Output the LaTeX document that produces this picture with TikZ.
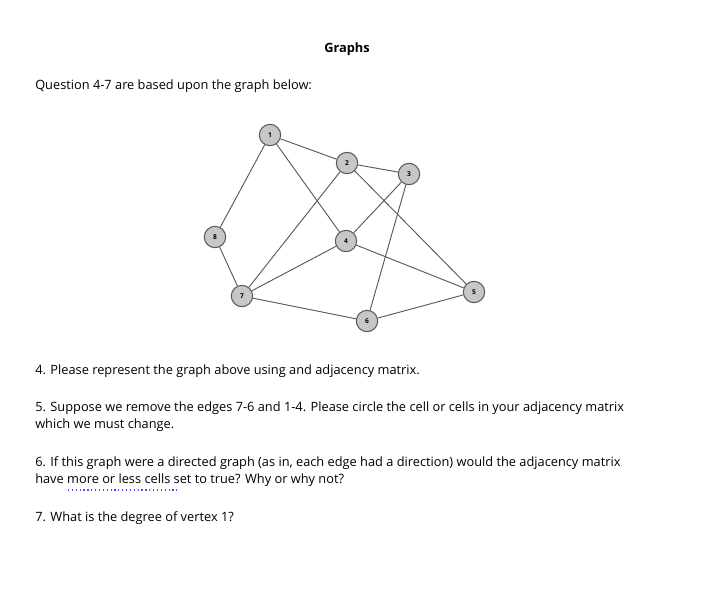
\documentclass[tikz,border=0pt]{standalone}
\usepackage{fontspec}
\setmainfont{Open Sans}
\begin{document}
\begin{tikzpicture}[x=0.75pt,y=-0.75pt,
  v/.style={circle,draw=black!65,fill=black!22,line width=0.8pt,minimum size=16pt,inner sep=0pt,font=\fontsize{5}{6}\selectfont\bfseries},
  e/.style={draw=black!65,line width=0.7pt},
  txt/.style={anchor=west,inner sep=0pt,font=\fontsize{9.6}{12}\selectfont}]
\useasboundingbox (0,0) rectangle (728,593);
\node[font=\fontsize{9.6}{12}\selectfont\bfseries,inner sep=0pt] (title) at (347,49) {Graphs};
\node[txt] (q) at (35,86) {Question 4-7 are based upon the graph below:};
\node[v] (n1) at (270,135) {1};
\node[v] (n2) at (347,163) {2};
\node[v] (n3) at (409,174) {3};
\node[v] (n8) at (215,237) {8};
\node[v] (n4) at (346,241) {4};
\node[v] (n7) at (242,296) {7};
\node[v] (n5) at (474,292) {5};
\node[v] (n6) at (367,321) {6};
\foreach \a/\b in {n1/n2,n1/n8,n1/n4,n2/n3,n2/n7,n2/n5,n3/n4,n3/n6,n8/n7,n7/n4,n7/n6,n4/n5,n6/n5}
  \draw[e] (\a) -- (\b);
\node[txt] (t4) at (35,371) {4. Please represent the graph above using and adjacency matrix.};
\node[txt] (t5a) at (35,408) {5. Suppose we remove the edges 7-6 and 1-4. Please circle the cell or cells in your adjacency matrix};
\node[txt] (t5b) at (35,425) {which we must change.};
\node[txt] (t6a) at (35,463) {6. If this graph were a directed graph (as in, each edge had a direction) would the adjacency matrix};
\node[txt] (t6b) at (35,480) {have more or less cells set to true? Why or why not?};
\node[txt] (t7) at (35,518) {7. What is the degree of vertex 1?};
\coordinate (u1) at (68,490);
\coordinate (u2) at (178,490);
\draw[blue!70,dotted,line width=0.9pt] (u1) -- (u2);
\end{tikzpicture}
\end{document}
